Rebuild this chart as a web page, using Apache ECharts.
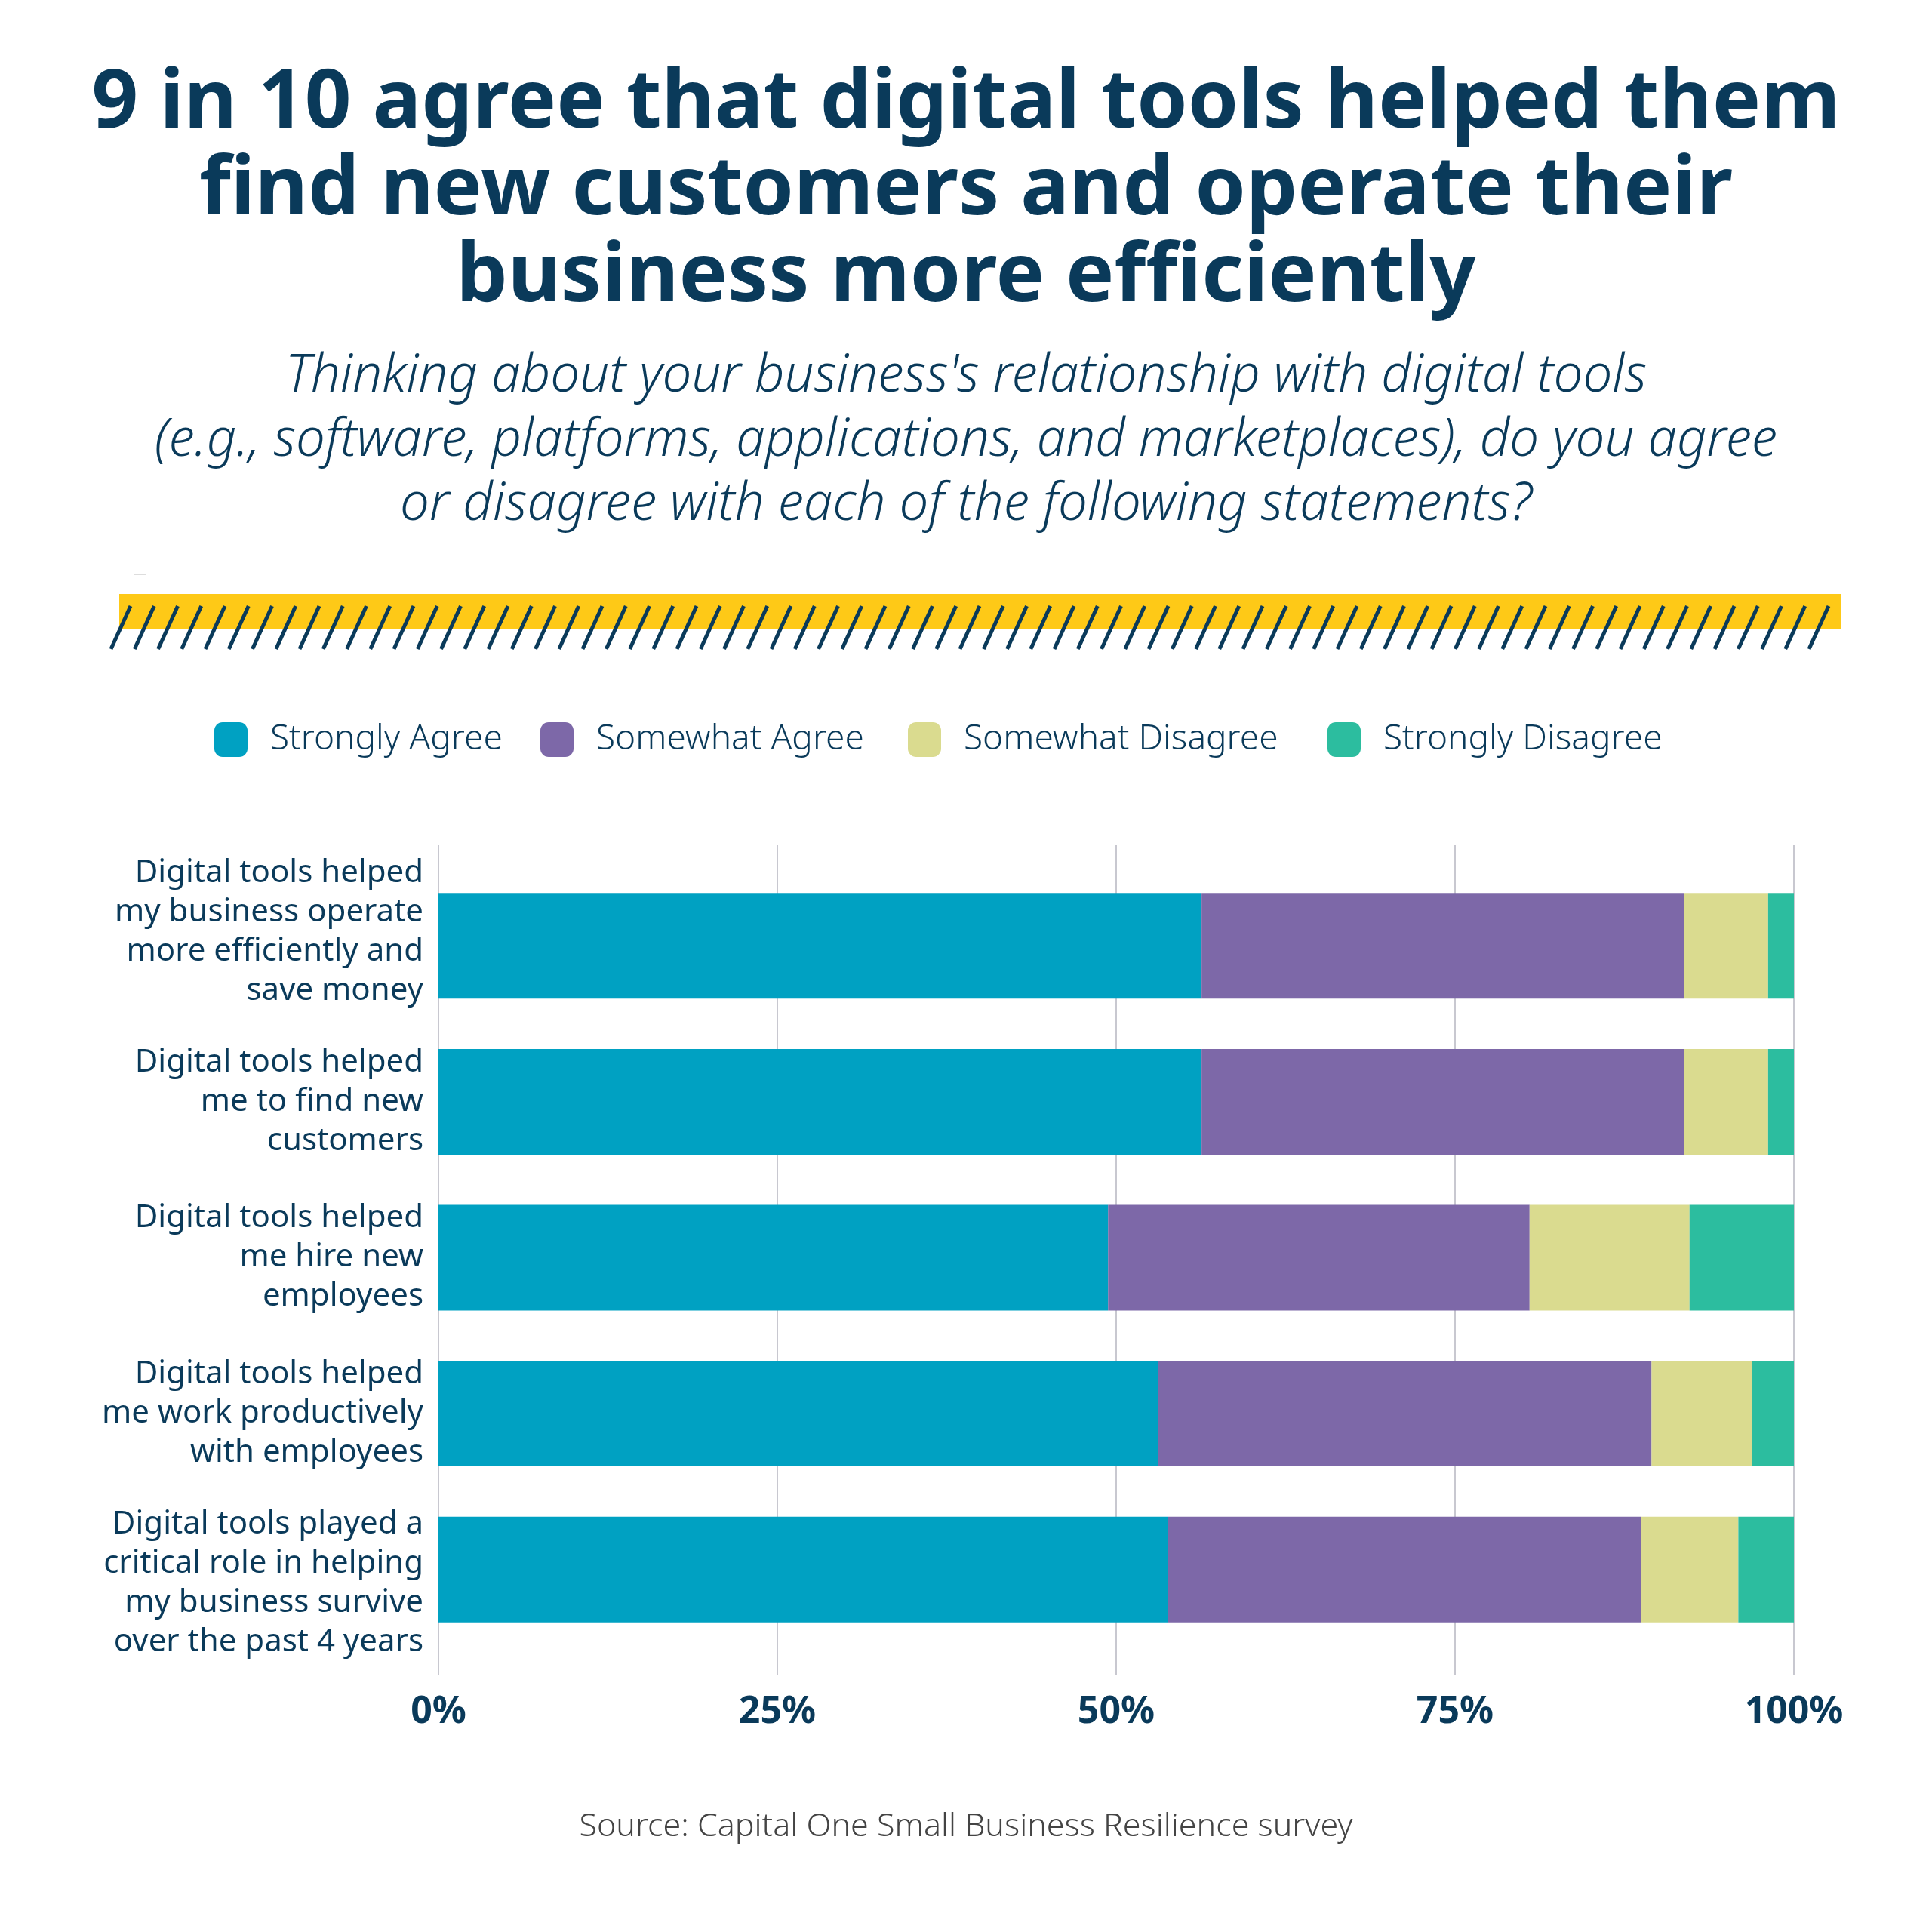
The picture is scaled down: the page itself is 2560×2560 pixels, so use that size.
<!DOCTYPE html>
<html>
<head>
<meta charset="utf-8">
<script src="https://cdn.jsdelivr.net/npm/echarts@6/dist/echarts.min.js"></script>
<style>
html,body{margin:0;padding:0;background:#fff;}
#chart{width:2560px;height:2560px;}
</style>
</head>
<body>
<div id="chart"></div>
<script>
var titleText = '9 in 10 agree that digital tools helped them\nfind new customers and operate their\nbusiness more efficiently';
var subtitleText = "Thinking about your business's relationship with digital tools\n(e.g., software, platforms, applications, and marketplaces), do you agree\nor disagree with each of the following statements?";
var sourceText = 'Source: Capital One Small Business Resilience survey';

var categories = [
  'Digital tools helped\nmy business operate\nmore efficiently and\nsave money',
  'Digital tools helped\nme to find new\ncustomers',
  'Digital tools helped\nme hire new\nemployees',
  'Digital tools helped\nme work productively\nwith employees',
  'Digital tools played a\ncritical role in helping\nmy business survive\nover the past 4 years'
];
var seriesNames = ['Strongly Agree', 'Somewhat Agree', 'Somewhat Disagree', 'Strongly Disagree'];
var stronglyAgree    = [56.3, 56.3, 49.4, 53.1, 53.8];
var somewhatAgree    = [35.6, 35.6, 31.1, 36.4, 34.9];
var somewhatDisagree = [6.2, 6.2, 11.8, 7.4, 7.2];
var stronglyDisagree = [1.9, 1.9, 7.7, 3.1, 4.1];
var tickLabels = ['0%', '25%', '50%', '75%', '100%'];

var colors = ['#00a1c2', '#7d68a8', '#dadb8f', '#2cbd9f'];
var navy = '#0a3a5a';
var FONT = 'Noto Sans';

var seriesData = [stronglyAgree, somewhatAgree, somewhatDisagree, stronglyDisagree];

// layout-only tweaks
var legendLefts = [279, 711, 1198, 1754];
var labelShift = [-1, 0, 0, 0, 1]; // -1: nudge label up, 1: nudge label down

// decorative stripe
var graphics = [
  { type: 'rect', shape: { x: 158, y: 787, width: 2282, height: 47 }, style: { fill: '#fec917' }, z: 1 },
  { type: 'line', shape: { x1: 178, y1: 761, x2: 193, y2: 761 }, style: { stroke: '#dddddd', lineWidth: 2 } }
];
for (var i = 0; i < 73; i++) {
  var dx = i * 31.25;
  graphics.push({ type: 'line', z: 2,
    shape: { x1: 173 + dx, y1: 803, x2: 147 + dx, y2: 860 },
    style: { stroke: navy, lineWidth: 5 } });
}

var chart = echarts.init(document.getElementById('chart'), null, { renderer: 'canvas' });
chart.setOption({
  backgroundColor: '#ffffff',
  animation: false,
  color: colors,
  textStyle: { fontFamily: FONT },
  title: [
    { text: titleText, left: 'center', top: 76,
      textStyle: { fontFamily: FONT, fontSize: 108, fontWeight: 'bold', color: navy, lineHeight: 115, align: 'center' } },
    { text: subtitleText, left: 'center', top: 452,
      textStyle: { fontFamily: FONT, fontSize: 69, fontWeight: 300, fontStyle: 'italic', color: navy, lineHeight: 85, align: 'center' } },
    { text: sourceText, left: 'center', top: 2394,
      textStyle: { fontFamily: FONT, fontSize: 43, fontWeight: 300, color: '#444444' } }
  ],
  legend: seriesNames.map(function (name, k) {
    return {
      data: [name],
      left: legendLefts[k], top: 952,
      itemWidth: 44, itemHeight: 46,
      icon: 'roundRect',
      textStyle: { fontFamily: FONT, fontSize: 46, fontWeight: 300, color: navy, padding: [0, 0, 0, 25] }
    };
  }),
  graphic: graphics,
  grid: [
    { left: 581, right: 183, top: 1150, height: 1033, containLabel: false },
    { left: 581, right: 183, top: 1120, height: 1100, containLabel: false }
  ],
  xAxis: [
    { type: 'value', gridIndex: 0, min: 0, max: 100, interval: 25,
      axisLine: { show: false }, axisTick: { show: false }, axisLabel: { show: false }, splitLine: { show: false } },
    { type: 'value', gridIndex: 1, min: 0, max: 100, interval: 25,
      axisLine: { show: false }, axisTick: { show: false },
      axisLabel: { show: true, margin: 24, fontFamily: FONT, fontSize: 50, fontWeight: 'bold', color: navy,
        formatter: function (v) { return tickLabels[Math.round(v / 25)]; } },
      splitLine: { show: true, lineStyle: { color: '#c8c8d0', width: 2 } } }
  ],
  yAxis: [
    { type: 'category', gridIndex: 0, inverse: true, data: categories,
      axisLine: { show: false }, axisTick: { show: false },
      axisLabel: { margin: 20, fontFamily: FONT, fontSize: 42, lineHeight: 52, color: navy, align: 'right',
        formatter: function (value, idx) {
          var s = labelShift[idx];
          var lines = value.split('\n').map(function (l) { return '{t|' + l + '}'; }).join('\n');
          if (s < 0) return lines + '\n{sp|}';
          if (s > 0) return '{sp|}\n' + lines;
          return lines;
        },
        rich: {
          t: { fontFamily: FONT, fontSize: 42, lineHeight: 52, color: navy, align: 'right' },
          sp: { fontSize: 10, lineHeight: 36, height: 36 }
        } } },
    { type: 'category', gridIndex: 1, data: categories, show: false }
  ],
  series: seriesNames.map(function (name, k) {
    return {
      name: name, type: 'bar', stack: 'total', xAxisIndex: 0, yAxisIndex: 0,
      barWidth: 140, data: seriesData[k],
      itemStyle: { color: colors[k] }, z: 3
    };
  })
});
</script>
</body>
</html>
